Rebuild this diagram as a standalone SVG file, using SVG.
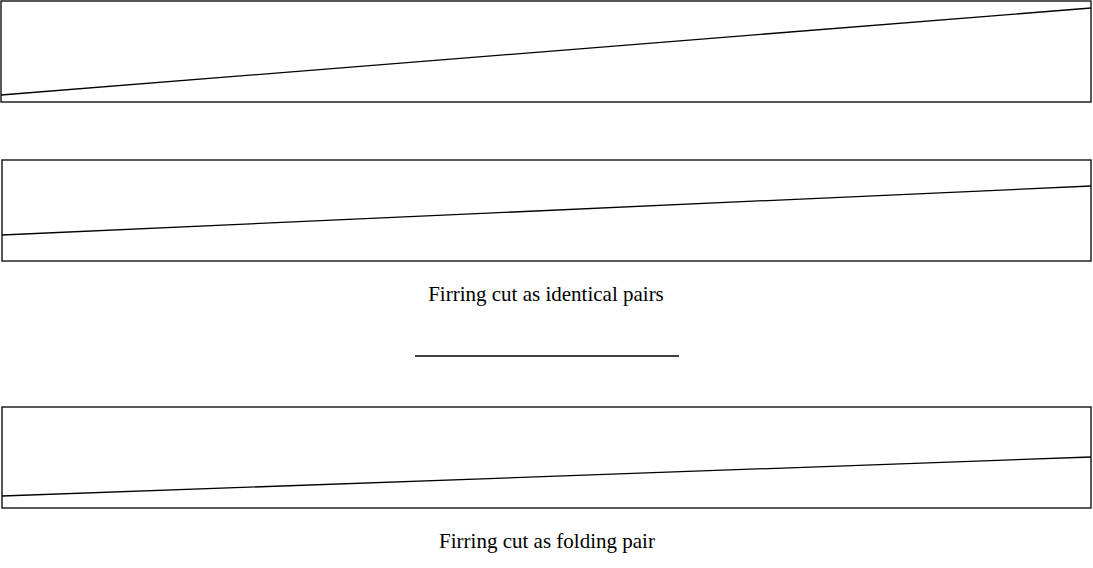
<svg xmlns="http://www.w3.org/2000/svg" width="1093" height="568" viewBox="0 0 1093 568">
<style>.b{fill:none;stroke:#000;stroke-width:1.3}.t{font-family:"Liberation Serif",serif;font-size:21px;text-anchor:middle}</style>
<rect width="1093" height="568" fill="#fff"/>
<g id="board1"><rect class="b" x="1" y="1" width="1090" height="101"/><line class="b" x1="1" y1="95" x2="1091" y2="8"/></g>
<g id="board2"><rect class="b" x="2" y="160" width="1089" height="101"/><line class="b" x1="2" y1="235" x2="1091" y2="186"/></g>
<text class="t" x="546" y="301">Firring cut as identical pairs</text>
<line class="b" x1="415" y1="356" x2="679" y2="356"/>
<g id="board3"><rect class="b" x="2" y="407" width="1089" height="101"/><line class="b" x1="2" y1="496" x2="1091" y2="457"/></g>
<text class="t" x="547" y="548">Firring cut as folding pair</text>
</svg>
